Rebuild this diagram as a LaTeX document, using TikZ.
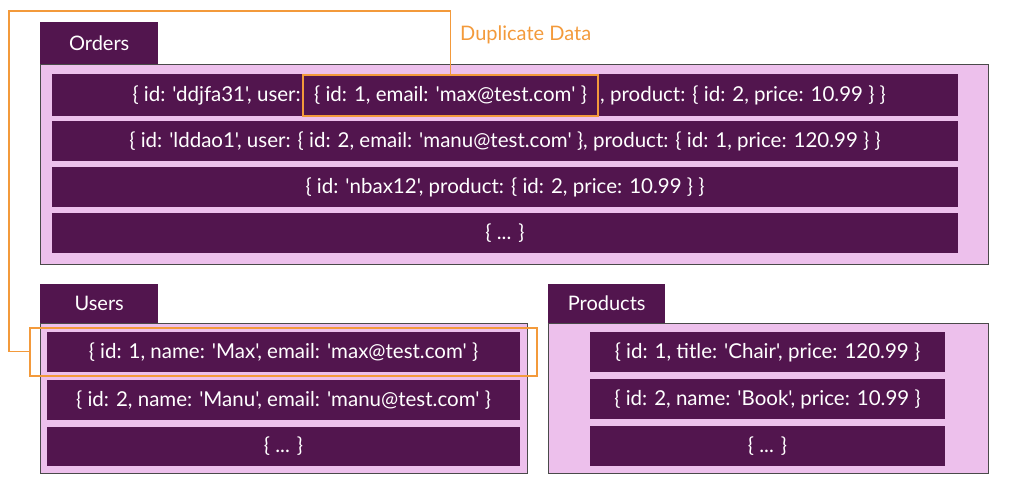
\documentclass[tikz,border=0pt]{standalone}
\usepackage{fontspec}
\setmainfont{Lato}[Ligatures=TeXOff]
\definecolor{dpurple}{HTML}{52154E}
\definecolor{lpink}{HTML}{EDC0EC}
\definecolor{dorange}{HTML}{F39A3B}
\definecolor{bgray}{HTML}{4A4A4A}
\begin{document}
\begin{tikzpicture}[x=1pt,y=-1pt,
  container/.style={draw=bgray,line width=0.9pt,fill=lpink,anchor=north west,inner sep=0pt},
  tab/.style={fill=dpurple,text=white,anchor=north west,inner sep=0pt,font=\fontsize{20}{24}\selectfont},
  rowbox/.style={fill=dpurple,text=white,inner sep=0pt,font=\fontsize{20.5}{24}\selectfont},
  plain/.style={text=white,inner sep=0pt,font=\fontsize{20.5}{24}\selectfont},
  hilite/.style={draw=dorange,line width=2pt,inner sep=0pt},
  link/.style={draw=dorange,line width=1.6pt}]
\useasboundingbox (0,0) rectangle (1029,492);
% Orders
\node[tab,minimum width=118pt,minimum height=42pt] (otab) at (40,22) {Orders};
\node[container,minimum width=948pt,minimum height=200pt] (ocont) at (40,64) {};
\node[rowbox,minimum width=906pt,minimum height=42pt] (o1) at (505,95) {};
\node[hilite,minimum width=295pt,minimum height=41pt,text=white,font=\fontsize{20.5}{24}\selectfont] (dup) at (450.5,95.5) {\{ id: 1, email: 'max@test.com' \}};
\node[plain,anchor=east] (o1a) at ([xshift=-1pt]dup.west) {\{ id: 'ddjfa31', user:};
\node[plain,anchor=west] (o1b) at ([xshift=1pt]dup.east) {, product: \{ id: 2, price: 10.99 \} \}};
\node[rowbox,minimum width=906pt,minimum height=40pt] (o2) at (505,141) {\{ id: 'lddao1', user: \{ id: 2, email: 'manu@test.com' \}, product: \{ id: 1, price: 120.99 \} \}};
\node[rowbox,minimum width=906pt,minimum height=40pt] (o3) at (505,187) {\{ id: 'nbax12', product: \{ id: 2, price: 10.99 \} \}};
\node[rowbox,minimum width=906pt,minimum height=40pt] (o4) at (505,233) {\{ ... \}};
\node[text=dorange,anchor=west,inner sep=0pt,font=\fontsize{20}{24}\selectfont] (dlabel) at (460,35) {Duplicate Data};
% Users
\node[tab,minimum width=118pt,minimum height=39pt] (utab) at (40,284) {Users};
\node[container,minimum width=487pt,minimum height=150pt] (ucont) at (40,323) {};
\node[rowbox,minimum width=473pt,minimum height=40pt] (u1) at (283.5,352) {\{ id: 1, name: 'Max', email: 'max@test.com' \}};
\node[rowbox,minimum width=473pt,minimum height=40pt] (u2) at (283.5,400) {\{ id: 2, name: 'Manu', email: 'manu@test.com' \}};
\node[rowbox,minimum width=473pt,minimum height=39pt] (u3) at (283.5,446.5) {\{ ... \}};
\node[hilite,minimum width=507pt,minimum height=48pt] (ub) at (283.5,351.5) {};
% Products
\node[tab,minimum width=117pt,minimum height=39pt] (ptab) at (548,284) {Products};
\node[container,minimum width=440pt,minimum height=150pt] (pcont) at (548,323) {};
\node[rowbox,minimum width=355pt,minimum height=40pt] (p1) at (767.5,352) {\{ id: 1, title: 'Chair', price: 120.99 \}};
\node[rowbox,minimum width=355pt,minimum height=40pt] (p2) at (767.5,399) {\{ id: 2, name: 'Book', price: 10.99 \}};
\node[rowbox,minimum width=355pt,minimum height=40pt] (p3) at (767.5,446) {\{ ... \}};
% connector
\coordinate (corner) at (9,11);
\draw[link] (dup.north) |- (corner) |- (ub.west);
\end{tikzpicture}
\end{document}
